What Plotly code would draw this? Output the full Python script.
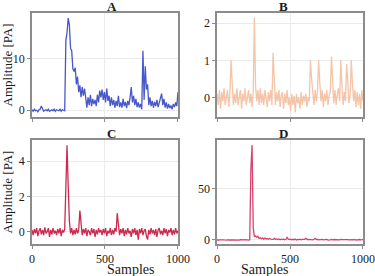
import plotly.graph_objects as go

samples = list(range(0, 1001, 8))

amp_A = [0.1, -0.2, 0.2, -0.1, 0.0, -0.3, 0.1, 0.2, 0.8, 0.1, -0.2, 0.0, 0.1, -0.1, 0.2, -0.2, 0.0, 0.1, -0.1, 0.2,
         -0.2, 0.1, 0.0, -0.1, 0.2, -0.2, 0.1, 0.0, -0.1,
         13.5, 15.0, 17.8, 16.5, 12.0, 11.5, 8.0, 7.5, 8.2, 5.0, 6.5, 3.5, 4.8, 2.5, 4.5, 2.8, 4.2, 1.5, 0.5, 2.5,
         1.0, 3.0, 0.8, 2.2, 1.2, 2.0, 0.8, 3.0, 1.5, 3.8, 2.5, 4.0, 2.0, 3.5, 1.5, 4.2, 1.8, 2.8, 0.8, 2.5,
         1.0, 2.0, 0.5, 1.8, 0.8, 2.8, 0.6, 1.5, 0.5, 2.2, 0.8, 1.6, 0.4, 1.8, 1.0, 2.5, 4.5, 1.5, 2.8, 1.0,
         2.2, 0.6, 1.5, 0.5, 1.2, 0.2, 11.5, 2.0, 8.5, 4.0, 5.0, 1.0, 2.5, 0.8, 1.8, 0.5, 1.6, 0.8, 2.0, 0.6,
         1.5, 2.2, 3.2, 1.0, 2.2, 0.5, 1.5, 0.3, 1.2, 0.4, 0.9, 0.2, 1.2, 0.6, 1.5, 0.8, 3.5]

amp_B = [0.1, -0.2, 0.2, -0.3, 0.15, -0.1, 0.25, -0.2, 0.0, 0.2, -0.25, 0.1,
         1.0,
         0.2, -0.2, 0.1, -0.15, 0.25, -0.2, 0.0, 0.2, -0.3, 0.1, -0.1, 0.25, -0.2, 0.05, 0.2, -0.15, 0.1, -0.25, 0.15,
         2.15,
         0.3, -0.1, 0.2, -0.2, 0.25, -0.15, 0.1, -0.2, 0.2, 0.0, -0.25, 0.15, -0.1, 0.2, -0.2,
         1.2, 0.3,
         -0.2, 0.15, -0.1, 0.2, -0.25, 0.05, 0.15, -0.3, 0.1, -0.15, 0.2, -0.2, 0.0, -0.35, 0.1, -0.2, 0.05, -0.4,
         0.1, -0.15, 0.0, -0.3, 0.15, -0.2, 0.05, -0.1, 0.1, -0.25, 0.0, -0.1,
         1.0, 0.5,
         0.1, -0.2, 0.2, -0.1, 0.15,
         1.0, 0.4,
         -0.1, 0.2, -0.25, 0.1, -0.1, 0.2, -0.2, 0.05, 0.15,
         1.1, 0.3,
         -0.15, 0.2, -0.2, 0.1, 0.25, -0.1,
         1.0, 0.3,
         -0.2, 0.15, -0.1,
         0.9, 0.2,
         -0.15, 0.1,
         1.0, 0.35,
         -0.1, 0.2, -0.25, 0.15, -0.2, 0.1, -0.3, 0.2, -0.1]

amp_C = [0.1, -0.2, 0.15, -0.1, 0.2, -0.25, 0.05, 0.2, -0.15, 0.1, -0.2, 0.25, -0.1, 0.0, 0.2, -0.3, 0.1, -0.15,
         0.2, -0.1, 0.05, -0.2, 0.15, -0.1, 0.2, -0.25, 0.1, -0.05, 0.15,
         2.0, 4.9, 2.6, 0.6,
         -0.1, 0.2, -0.2, 0.1, -0.15, 0.2, -0.1, 0.1,
         1.2, 0.35,
         -0.2, 0.15, -0.1, 0.2, -0.25, 0.1, 0.0, -0.2, 0.2, -0.1, 0.15, -0.3, 0.1, -0.15, 0.2, -0.05, 0.1, -0.2,
         0.15, -0.1, 0.2, -0.25, 0.05, -0.1, 0.2, -0.2, 0.1, -0.15, 0.2, 0.0,
         1.05, 0.4,
         -0.2, 0.15, -0.1, 0.2, -0.25, 0.1, -0.15, 0.2, -0.1, 0.05, -0.3, 0.15, -0.1, 0.2, -0.2, 0.1, -0.45, 0.15,
         -0.1, 0.2, -0.2, 0.05, 0.15, -0.25, -0.45, 0.1, -0.15, 0.2, -0.1, 0.1, -0.2, 0.15, -0.3, 0.1, 0.2, -0.15,
         0.05, -0.2, 0.2, -0.1, 0.15, -0.25, 0.1, -0.05, 0.2, -0.2, 0.1, -0.15, 0.2, -0.1, 0.05]

amp_D = [0.2, -0.3, 0.1, 0.3, -0.2, 0.1, 0.0, -0.2, 0.3, -0.1, 0.2, -0.3, 0.1, 0.0, 0.2, -0.2, 0.3, -0.1, 0.1,
         -0.2, 0.2, 0.0, -0.3, 0.1, 0.2, -0.1, 0.3, -0.2, 0.1,
         70.0, 93.0, 12.0, 3.0, 4.0, 2.5, 3.5, 1.5, 2.2, 1.2, 2.0, 0.8, 1.8, 1.0, 1.5, 0.6, 1.4, 0.8, 1.0, 0.5,
         1.5, 0.6, 1.0,
         0.4, 0.9, 0.2, 0.7, 0.3, 0.8, 0.1, 0.6, 2.5, 0.8, 0.3, 0.7, 0.1, 0.6, 0.2, 0.8, 0.0, 0.5, 0.2, 0.7,
         0.1, 0.6, 0.3, 0.5, 1.5, 0.4, 0.1, 0.6, 0.2, 0.5, 0.0, 0.6, 1.5, 0.3, 0.6, 0.1, 0.5, 0.2, 0.6, 0.0,
         0.4, 0.2, 0.6, -0.1, 0.4, 0.1, 0.5, 0.0, 0.4, 0.2, 0.5, -0.1, 0.3, 0.1, 0.5, 0.0, 0.3, 0.2, 0.4, -0.1,
         0.3, 0.1, 0.4, 0.0, 0.3, 0.1, 0.4, -0.1, 0.3, 0.1, 0.4, 0.0, 0.3, 0.2]

panel_titles = ["A", "B", "C", "D"]
colors = ["#3446c4", "#f3bf9f", "#c8153a", "#d42f5c"]
y_ranges = [[-1.3, 18.8], [-0.52, 2.27], [-0.7, 5.2], [-4, 98]]
y_ticks = [[0, 10], [0, 1, 2], [0, 2, 4], [0, 50]]
x_ticks = [0, 500, 1000]

series = [amp_A, amp_B, amp_C, amp_D]
xdom = [[0, 0.441], [0.559, 1], [0, 0.441], [0.559, 1]]
ydom = [[0.55, 1], [0.55, 1], [0, 0.45], [0, 0.45]]

font_family = "Liberation Serif, Times New Roman, serif"
txt_color = "#1a1a1a"
fig = go.Figure()
for i in range(4):
    n = "" if i == 0 else str(i + 1)
    fig.add_trace(go.Scatter(x=samples, y=series[i], mode="lines",
                             line=dict(color=colors[i], width=1.3), opacity=0.9,
                             xaxis="x" + n, yaxis="y" + n, showlegend=False))
    axcommon = dict(showline=True, mirror=True, linecolor="#8c8c8c", linewidth=1.5,
                    ticks="outside", ticklen=3, tickcolor="#8c8c8c", automargin=False,
                    showgrid=True, gridcolor="#ebebeb", gridwidth=1, zeroline=False,
                    tickfont=dict(family=font_family, size=12, color=txt_color))
    xa = dict(axcommon, domain=xdom[i], range=[0, 1000], tickvals=x_ticks,
              anchor="y" + n, showticklabels=(i >= 2))
    ya = dict(axcommon, domain=ydom[i], range=y_ranges[i], tickvals=y_ticks[i], anchor="x" + n)
    if i in (0, 2):
        ya["title"] = dict(text="Amplitude [PA]", font=dict(family=font_family, size=13, color=txt_color), standoff=4)
    fig.layout["xaxis" + n] = xa
    fig.layout["yaxis" + n] = ya
    xc = (xdom[i][0] + xdom[i][1]) / 2
    fig.add_annotation(text="<b>" + panel_titles[i] + "</b>", x=xc,
                       y=ydom[i][1], xref="paper", yref="paper", yanchor="middle", yshift=7,
                       showarrow=False, font=dict(family=font_family, size=13, color=txt_color))
    if i >= 2:
        fig.add_annotation(text="Samples", x=xc, y=0, xref="paper", yref="paper",
                           yanchor="middle", yshift=-25, showarrow=False,
                           font=dict(family=font_family, size=14, color=txt_color))

fig.update_layout(width=375, height=276, margin=dict(l=32, r=12, t=13, b=32),
                  plot_bgcolor="white", paper_bgcolor="white")
fig.write_html("out.html", config={"displayModeBar": False},
               post_script="document.body.style.margin='0';")
